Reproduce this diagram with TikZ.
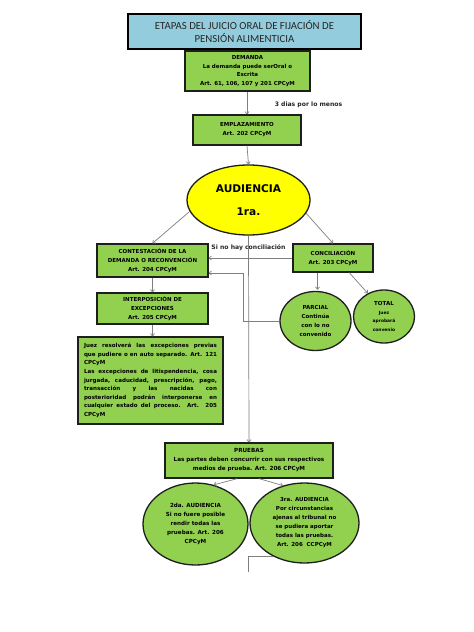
\documentclass[tikz,border=0pt]{standalone}
\usepackage{fontspec}
\setmainfont{DejaVu Sans}
\newfontfamily\titlefont{Carlito}
\usetikzlibrary{shapes.geometric,arrows.meta,calc}
\definecolor{grn}{HTML}{92D050}
\definecolor{sky}{HTML}{93CDDD}
\definecolor{con}{HTML}{7F7F7F}
\definecolor{edge}{HTML}{1E1E1E}
\definecolor{yel}{HTML}{FFFF00}
\begin{document}
\begin{tikzpicture}[x=1pt,y=-1pt,
  box/.style={draw=edge,line width=1.3pt,fill=grn,align=center,inner sep=1pt,
    font=\fontsize{5.5}{8.6}\selectfont\bfseries},
  oval/.style={ellipse,draw=edge,line width=1.3pt,fill=grn,align=center,inner sep=0pt,
    font=\fontsize{5.5}{8.8}\selectfont\bfseries},
  arr/.style={draw=con,line width=0.7pt,-{To[length=3pt,width=4.5pt]}},
  ln/.style={draw=con,line width=0.7pt},
  lbl/.style={font=\fontsize{6.1}{7}\selectfont\bfseries,text=black!85,inner sep=0pt}
]
\useasboundingbox[fill=white] (0,0) rectangle (474,632);

\node[draw=black,line width=1.6pt,fill=sky,minimum width=233pt,minimum height=35pt,
  align=center,font=\titlefont\fontsize{10.8}{12.5}\selectfont,text=black!85] (title) at (244.5,31.5)
  {ETAPAS DEL JUICIO ORAL DE FIJACIÓN DE\\PENSIÓN ALIMENTICIA};

\node[box,minimum width=125pt,minimum height=40pt] (dem) at (247.5,71)
  {DEMANDA\\La demanda puede serOral o\\Escrita\\Art. 61, 106, 107 y 201 CPCyM};

\node[box,minimum width=108pt,minimum height=30pt,font=\fontsize{5.5}{9}\selectfont\bfseries] (empl) at (247,130)
  {EMPLAZAMIENTO\\Art. 202 CPCyM};

\node[ellipse,draw=edge,line width=1.3pt,fill=yel,minimum width=123pt,minimum height=70pt,
  inner sep=0pt,align=center,font=\fontsize{10.6}{23}\selectfont\bfseries] (aud) at (248.5,200)
  {AUDIENCIA\\1ra.};

\node[box,minimum width=111pt,minimum height=33pt] (cont) at (152.5,260.5)
  {CONTESTACIÓN DE LA\\DEMANDA O RECONVENCIÓN\\Art. 204 CPCyM};

\node[box,minimum width=80pt,minimum height=28pt] (conc) at (333,258)
  {CONCILIACIÓN\\Art. 203 CPCyM};

\node[box,minimum width=111pt,minimum height=31pt] (interp) at (152.5,308.5)
  {INTERPOSICIÓN DE\\EXCEPCIONES\\Art. 205 CPCyM};

\node[box,minimum width=145pt,minimum height=87pt,align=left,inner sep=4pt,
  font=\fontsize{5.55}{8.6}\selectfont\bfseries] (big) at (150.5,380.5)
  {\makebox[133pt][s]{Juez resolverá las excepciones previas}\\
   \makebox[133pt][s]{que pudiere o en auto separado. Art. 121}\\
   CPCyM\\
   \makebox[133pt][s]{Las excepciones de litispendencia, cosa}\\
   \makebox[133pt][s]{jurgada, caducidad, prescripción, pago,}\\
   \makebox[133pt][s]{transacción y las nacidas con}\\
   \makebox[133pt][s]{posterioridad podrán interponerse en}\\
   \makebox[133pt][s]{cualquier estado del proceso. Art. 205}\\
   CPCyM};

\node[oval,minimum width=71pt,minimum height=59pt] (parcial) at (315.5,321)
  {PARCIAL\\Continúa\\con lo no\\convenido};

\node[oval,minimum width=61pt,minimum height=53pt,font=\fontsize{5.5}{8.5}\selectfont\bfseries] (total) at (384,316.5)
  {TOTAL\\{\fontsize{4.4}{8}\selectfont Juez}\\{\fontsize{4.4}{8}\selectfont aprobará}\\{\fontsize{4.4}{8}\selectfont convenio}};

\node[box,minimum width=168pt,minimum height=35pt,font=\fontsize{5.65}{9}\selectfont\bfseries] (pru) at (249,460.5)
  {PRUEBAS\\Las partes deben concurrir con sus respectivos\\medios de prueba. Art. 206 CPCyM};

\node[oval,minimum width=105pt,minimum height=82pt,font=\fontsize{5.6}{8.8}\selectfont\bfseries] (seg) at (195.5,524)
  {2da. AUDIENCIA\\Si no fuere posible\\rendir todas las\\pruebas. Art. 206\\CPCyM};

\node[oval,minimum width=109pt,minimum height=80pt,font=\fontsize{5.5}{9}\selectfont\bfseries] (ter) at (304.5,523)
  {3ra. AUDIENCIA\\Por circunstancias\\ajenas al tribunal no\\se pudiera aportar\\todas las pruebas.\\Art. 206~~CCPCyM};

\node[lbl] (dias) at (308.5,105) {3 dias por lo menos};
\node[lbl] (sinohay) at (248.5,248) {Si no hay conciliación};

\coordinate (bend) at (243,273);
\coordinate (fragend) at (248,572);

\draw[arr] (dem.south -| empl.north) -- (empl.north);
\draw[arr] (empl.south) -- (aud.north);
\draw[arr] (aud.191) -- (cont.north);
\draw[arr] (aud.-13) -- (conc.north);
\draw[arr] (aud.south) -- (pru.north);
\draw[arr] (conc.west) -- (conc.west -| cont.east);
\draw[arr] (parcial.west) -| (bend) -- (cont.east |- bend);
\draw[arr] ($(conc.south west)!0.31!(conc.south east)$) -- ++(0,17);
\draw[arr] ($(conc.south west)!0.70!(conc.south east)$) -- (total.125);
\draw[arr] (cont.south) -- (interp.north);
\draw[arr] (interp.south) -- (interp.south |- big.north);
\draw[arr] ($(pru.south west)!0.43!(pru.south east)$) -- (seg.65);
\draw[arr] ($(pru.south west)!0.56!(pru.south east)$) -- (ter.120);
\draw[ln] (ter.226) -| (fragend);
\end{tikzpicture}
\end{document}
